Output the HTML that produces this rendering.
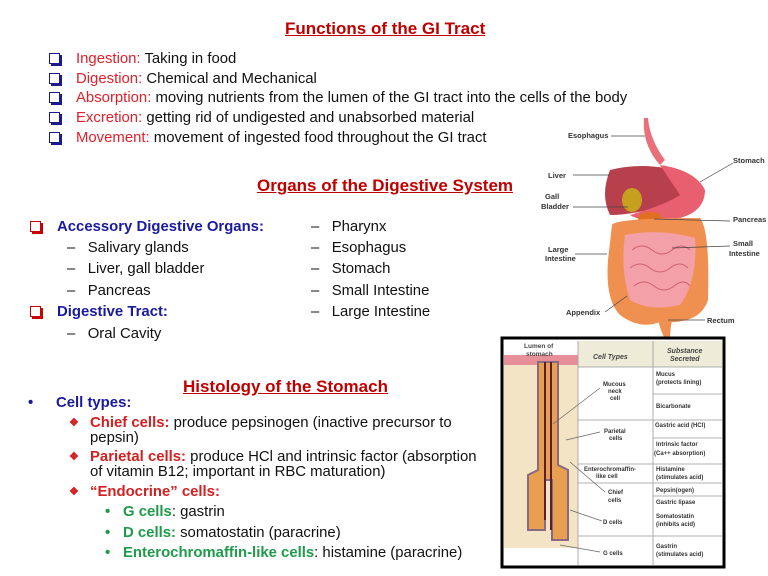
<!DOCTYPE html>
<html><head><meta charset="utf-8"><style>
body{margin:0;width:768px;height:576px;background:#fff;position:relative;overflow:hidden;font-family:"Liberation Sans",Arial,sans-serif;font-size:14.9px;color:#111}
.t{position:absolute;white-space:nowrap;line-height:16px}
.h{font-weight:bold;text-decoration:underline;color:#c00000;font-size:17px}
.r{color:#e0202a}.b{color:#1a1a9e;font-weight:bold}.g{color:#1f9a4a;font-weight:bold}.rb{color:#d42020;font-weight:bold}
.cb{position:absolute;width:9px;height:9px;border:1.5px solid #1a1a8a;box-shadow:2px 2px 0 #1a1a8a}
</style></head><body>
<div class="t h" style="left:285px;top:21px">Functions of the GI Tract</div>
<div class="cb" style="left:49px;top:53px"></div><div class="t" style="left:76px;top:51px"><span class="r">Ingestion:</span> Taking in food</div>
<div class="cb" style="left:49px;top:73px"></div><div class="t" style="left:76px;top:71px"><span class="r">Digestion:</span> Chemical and Mechanical</div>
<div class="cb" style="left:49px;top:92px"></div><div class="t" style="left:76px;top:90px"><span class="r">Absorption:</span> moving nutrients from the lumen of the GI tract into the cells of the body</div>
<div class="cb" style="left:49px;top:112px"></div><div class="t" style="left:76px;top:110px"><span class="r">Excretion:</span> getting rid of undigested and unabsorbed material</div>
<div class="cb" style="left:49px;top:132px"></div><div class="t" style="left:76px;top:130px"><span class="r">Movement:</span> movement of ingested food throughout the GI tract</div>

<div class="t h" style="left:257px;top:178px">Organs of the Digestive System</div>
<div class="cb" style="left:30px;top:221px;border-color:#c00;box-shadow:2px 2px 0 #c00"></div><div class="t b" style="left:57px;top:219px">Accessory Digestive Organs:</div>
<div class="t" style="left:67px;top:240px">–&nbsp;&nbsp;&nbsp;Salivary glands</div>
<div class="t" style="left:67px;top:261px">–&nbsp;&nbsp;&nbsp;Liver, gall bladder</div>
<div class="t" style="left:67px;top:283px">–&nbsp;&nbsp;&nbsp;Pancreas</div>
<div class="cb" style="left:30px;top:306px;border-color:#c00;box-shadow:2px 2px 0 #c00"></div><div class="t b" style="left:57px;top:304px">Digestive Tract:</div>
<div class="t" style="left:67px;top:326px">–&nbsp;&nbsp;&nbsp;Oral Cavity</div>
<div class="t" style="left:311px;top:219px">–&nbsp;&nbsp;&nbsp;Pharynx</div>
<div class="t" style="left:311px;top:240px">–&nbsp;&nbsp;&nbsp;Esophagus</div>
<div class="t" style="left:311px;top:261px">–&nbsp;&nbsp;&nbsp;Stomach</div>
<div class="t" style="left:311px;top:283px">–&nbsp;&nbsp;&nbsp;Small Intestine</div>
<div class="t" style="left:311px;top:304px">–&nbsp;&nbsp;&nbsp;Large Intestine</div>

<div class="t h" style="left:183px;top:379px">Histology of the Stomach</div>
<div class="t b" style="left:28px;top:395px">•</div><div class="t b" style="left:56px;top:395px">Cell types:</div>
<div class="t rb" style="left:69px;top:415px;font-size:11px">❖</div><div class="t" style="left:90px;top:415px"><span class="rb">Chief cells:</span> produce pepsinogen (inactive precursor to</div>
<div class="t" style="left:90px;top:430px">pepsin)</div>
<div class="t rb" style="left:69px;top:449px;font-size:11px">❖</div><div class="t" style="left:90px;top:449px"><span class="rb">Parietal cells:</span> produce HCl and intrinsic factor (absorption</div>
<div class="t" style="left:90px;top:464px">of vitamin B12; important in RBC maturation)</div>
<div class="t rb" style="left:69px;top:484px;font-size:11px">❖</div><div class="t rb" style="left:90px;top:484px">“Endocrine” cells:</div>
<div class="t g" style="left:105px;top:504px">•</div><div class="t" style="left:123px;top:504px"><span class="g">G cells</span>: gastrin</div>
<div class="t g" style="left:105px;top:525px">•</div><div class="t" style="left:123px;top:525px"><span class="g">D cells:</span> somatostatin (paracrine)</div>
<div class="t g" style="left:105px;top:545px">•</div><div class="t" style="left:123px;top:545px"><span class="g">Enterochromaffin-like cells</span>: histamine (paracrine)</div>

<svg style="position:absolute;left:0;top:0" width="768" height="576" font-family="Liberation Sans,Arial,sans-serif" font-weight="bold" font-size="7.5" fill="#333">
<path d="M648 118 Q650 140 665 160 L660 165 Q642 145 644 118Z" fill="#e8707a"/>
<path d="M610 170 Q650 160 690 175 Q700 190 680 200 Q640 215 610 215 Q600 195 610 170Z" fill="#b8404c"/>
<path d="M660 165 Q695 170 705 190 Q705 215 670 220 Q640 222 630 215 Q665 205 680 195Z" fill="#e86070"/>
<ellipse cx="632" cy="200" rx="10" ry="12" fill="#c8a020"/>
<ellipse cx="650" cy="218" rx="12" ry="6" fill="#e07020"/>
<path d="M612 225 Q615 218 700 218 Q710 230 708 300 Q700 325 660 322 Q640 330 620 315 Q605 300 608 260Z" fill="#f09050"/>
<path d="M625 235 Q660 228 695 238 Q698 280 680 305 Q650 312 630 300 Q620 270 625 235Z" fill="#f4a0a8"/>
<g fill="none" stroke="#d06070" stroke-width="1"><path d="M632 250 q10 -8 20 0 t20 0 t18 0"/><path d="M630 268 q10 -8 20 0 t20 0 t18 0"/><path d="M634 286 q10 -8 20 0 t20 0 t16 0"/></g>
<path d="M658 320 Q662 335 666 340 L670 340 Q670 330 672 320Z" fill="#f09050"/>
<g stroke="#444" stroke-width="0.7">
<line x1="611" y1="136" x2="645" y2="136"/><line x1="573" y1="175" x2="610" y2="175"/>
<line x1="573" y1="207" x2="628" y2="207"/><line x1="575" y1="254" x2="607" y2="254"/>
<line x1="605" y1="312" x2="627" y2="296"/><line x1="705" y1="320" x2="668" y2="320"/>
<line x1="730" y1="221" x2="654" y2="219"/><line x1="730" y1="246" x2="672" y2="248"/>
<line x1="733" y1="163" x2="700" y2="182"/>
</g>
<text x="568" y="138">Esophagus</text><text x="733" y="163">Stomach</text><text x="548" y="178">Liver</text>
<text x="545" y="199">Gall</text><text x="541" y="209">Bladder</text><text x="733" y="222">Pancreas</text>
<text x="548" y="252">Large</text><text x="545" y="261">Intestine</text>
<text x="733" y="246">Small</text><text x="729" y="256">Intestine</text>
<text x="566" y="315">Appendix</text><text x="707" y="323">Rectum</text>
<rect x="502" y="338" width="222" height="229" fill="#fff" stroke="#000" stroke-width="3"/>
<rect x="504" y="362" width="74" height="186" fill="#f2e4c4"/>
<rect x="504" y="355" width="74" height="10" fill="#e8909a"/>
<path d="M538 362 L538 470 L528 475 L528 530 L545 530 L545 480 L552 480 L552 540 L568 540 L568 470 L558 465 L558 362Z" fill="#e8a050" stroke="#8a6a80" stroke-width="2"/>
<path d="M545 362 L545 520 M551 362 L551 530" stroke="#5a2030" stroke-width="2"/>
<rect x="578" y="341" width="144" height="224" fill="#fff"/>
<rect x="578" y="341" width="144" height="26" fill="#eeebd8"/>
<g stroke="#999" stroke-width="0.8" fill="none">
<line x1="578" y1="341" x2="578" y2="565"/><line x1="653" y1="341" x2="653" y2="565"/>
<line x1="578" y1="367" x2="722" y2="367"/><line x1="578" y1="420" x2="722" y2="420"/>
<line x1="653" y1="394" x2="722" y2="394"/><line x1="653" y1="438" x2="722" y2="438"/>
<line x1="578" y1="464" x2="722" y2="464"/><line x1="578" y1="483" x2="722" y2="483"/>
<line x1="653" y1="496" x2="722" y2="496"/><line x1="578" y1="536" x2="722" y2="536"/>
</g>
<g stroke="#666" stroke-width="0.7"><line x1="600" y1="388" x2="553" y2="424"/><line x1="600" y1="432" x2="566" y2="440"/><line x1="605" y1="492" x2="570" y2="462"/><line x1="602" y1="521" x2="570" y2="510"/><line x1="600" y1="552" x2="560" y2="545"/></g>
<g font-size="6.5" fill="#444"><text x="524" y="348">Lumen of</text><text x="526" y="356">stomach</text></g>
<g font-size="7" font-style="italic" fill="#444"><text x="593" y="359">Cell Types</text><text x="667" y="353">Substance</text><text x="670" y="361">Secreted</text></g>
<g font-size="6" fill="#333">
<text x="603" y="386">Mucous</text><text x="608" y="393">neck</text><text x="610" y="400">cell</text>
<text x="604" y="433">Parietal</text><text x="609" y="440">cells</text>
<text x="584" y="471">Enterochromaffin-</text><text x="596" y="478">like cell</text>
<text x="608" y="494">Chief</text><text x="608" y="502">cells</text>
<text x="603" y="524">D cells</text><text x="603" y="555">G cells</text>
<text x="656" y="376">Mucus</text><text x="656" y="384">(protects lining)</text>
<text x="656" y="408">Bicarbonate</text>
<text x="655" y="427">Gastric acid (HCl)</text>
<text x="656" y="446">Intrinsic factor</text><text x="654" y="455">(Ca++ absorption)</text>
<text x="656" y="471">Histamine</text><text x="656" y="479">(stimulates acid)</text>
<text x="656" y="492">Pepsin(ogen)</text><text x="656" y="504">Gastric lipase</text>
<text x="656" y="518">Somatostatin</text><text x="656" y="526">(inhibits acid)</text>
<text x="656" y="548">Gastrin</text><text x="656" y="556">(stimulates acid)</text>
</g>
</svg>
</body></html>
